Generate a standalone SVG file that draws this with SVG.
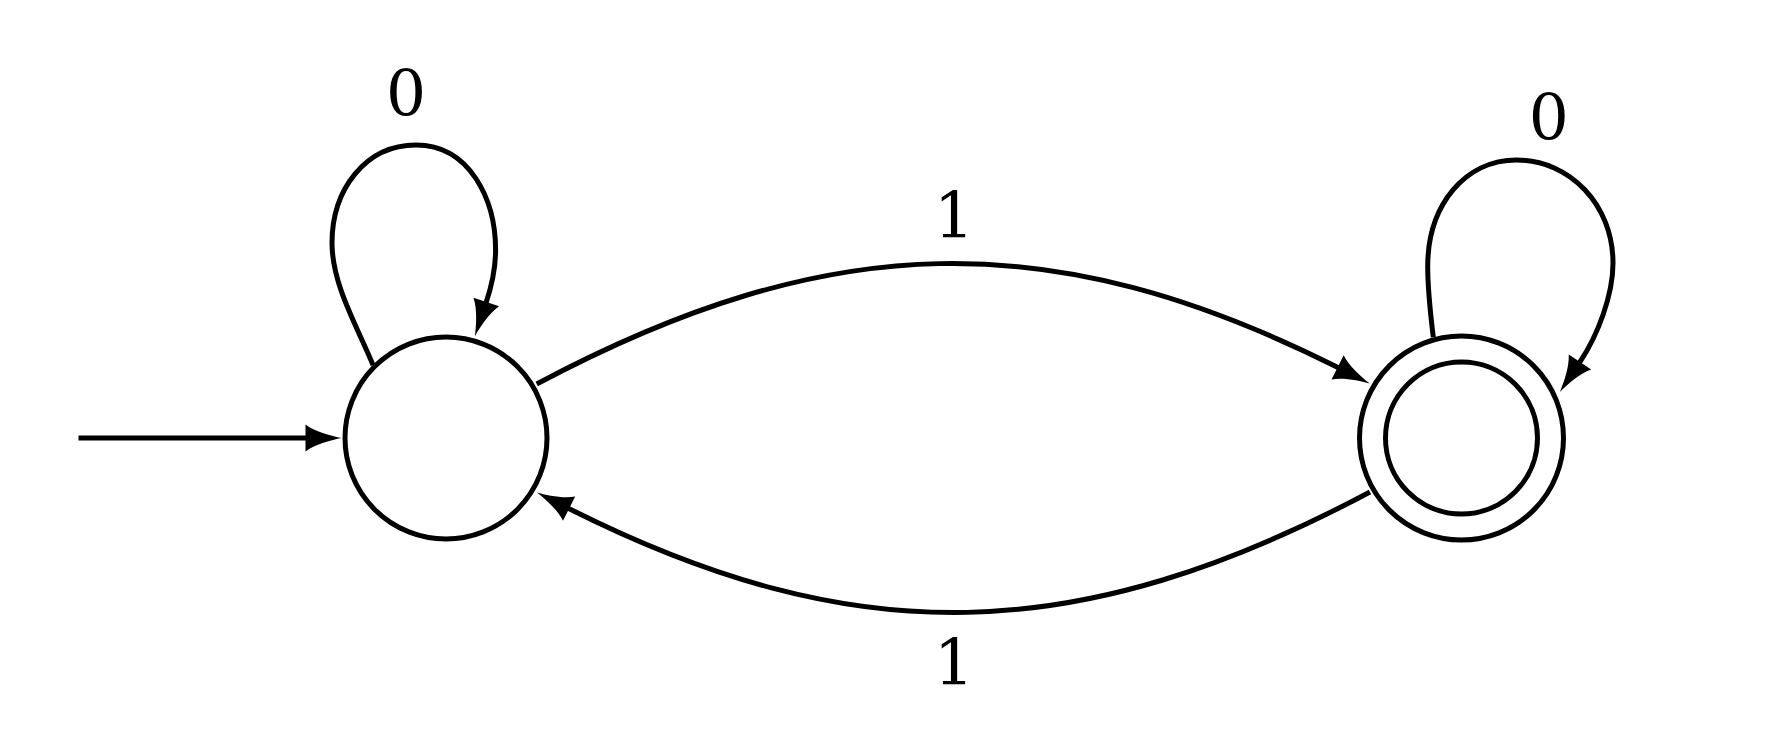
<svg xmlns="http://www.w3.org/2000/svg" width="1790" height="745" viewBox="0 0 1790 745">
<style>
.st{fill:#fff;stroke:#000;stroke-width:5}
.ed{fill:none;stroke:#000;stroke-width:5;marker-end:url(#ah)}
.lb{font-family:"DejaVu Serif","Liberation Serif",serif;font-size:63px;fill:#000;text-anchor:middle}
</style>
<defs>
<marker id="ah" markerUnits="userSpaceOnUse" markerWidth="40" markerHeight="30" refX="1" refY="0" orient="auto" overflow="visible">
<path d="M36,0 C26,-2 10,-6 0,-13.5 L0,13.5 C10,6 26,2 36,0 Z" fill="#000"/>
</marker>
</defs>
<rect width="1790" height="745" fill="#fff"/>
<g id="q0">
<circle class="st" cx="446" cy="438" r="101"/>
</g>
<g id="q1">
<circle class="st" cx="1461.5" cy="438" r="102"/>
<circle class="st" cx="1461.5" cy="438" r="76"/>
</g>
<g id="connectors">
<path id="start" class="ed" d="M78.5,438 L306.5,438"/>
<path id="loop0" class="ed" d="M373,365 C358,328 332,285 332,243 C332,190 365,145 416,145 C470,145 495.6,200 495.6,250 C495.6,272 491,288 486,303"/>
<path id="e01" class="ed" d="M536.7,384 C828.4,228.9 1051.9,223.5 1338.5,367.8"/>
<path id="e10" class="ed" d="M1370,492 C1078.3,647.1 854.8,652.5 568.2,508.2"/>
<path id="loop1" class="ed" d="M1433.3,337.3 C1430,310 1427.7,290 1427.7,266.7 C1427.7,205 1465,160 1516.7,160 C1570,160 1613,205 1613,263 C1613,295 1598,335 1579.4,362.8"/>
<text class="lb" x="406" y="115.5">0</text>
<text class="lb" x="954" y="237.5">1</text>
<text class="lb" x="954" y="685">1</text>
<text class="lb" x="1548.7" y="139.5">0</text>
</g>
</svg>
